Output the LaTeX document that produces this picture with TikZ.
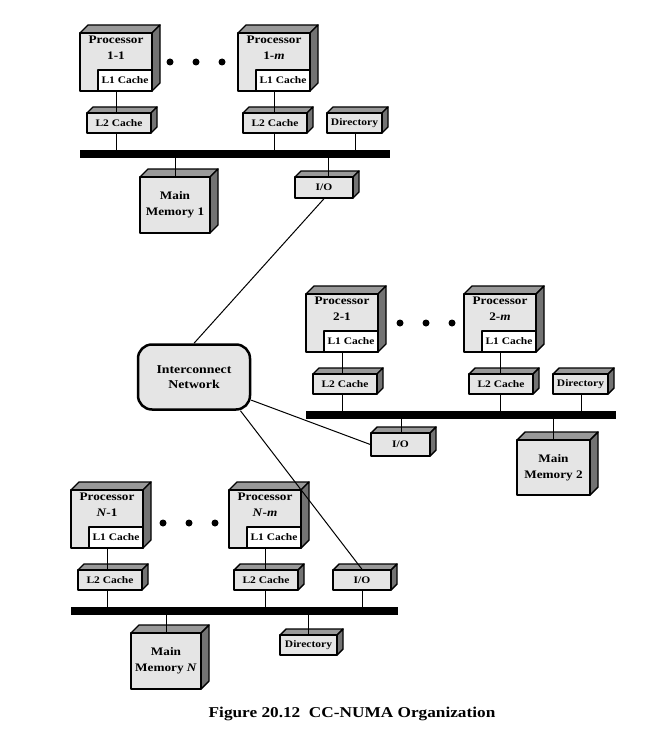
\documentclass[tikz,border=0pt]{standalone}
\usepackage{fontspec}
\setmainfont[FakeStretch=1.15]{Liberation Serif}
\usetikzlibrary{fit,shapes.misc}
\definecolor{frontc}{gray}{0.9}
\definecolor{topc}{gray}{0.6}
\definecolor{sidec}{gray}{0.45}
\tikzset{
  face/.style={draw=black,line width=1.4pt,line join=round},
  front/.style={face,fill=frontc,inner sep=0pt},
  lbl/.style={font=\fontsize{10}{11}\selectfont\bfseries,align=center,inner sep=0pt},
  big/.style={font=\fontsize{11.5}{16}\selectfont\bfseries,align=center,inner sep=0pt},
  wire/.style={line width=1pt},
  dot/.style={circle,fill=black,inner sep=0pt,minimum size=7pt},
  bus/.style={fill=black,inner sep=0pt}
}
% name, x1,y1,x2,y2, depth
\newcommand\cubeb[6]{%
  \filldraw[face,fill=topc] (#2,#3) -- ++(#6,-#6) -- (#4+#6,#3-#6) -- (#4,#3) -- cycle;
  \filldraw[face,fill=sidec] (#4,#3) -- (#4+#6,#3-#6) -- (#4+#6,#5-#6) -- (#4,#5) -- cycle;
  \node[front,fit={(#2,#3) (#4,#5)}] (#1) {};}
\begin{document}
\begin{tikzpicture}[x=1pt,y=-1pt]
\useasboundingbox[fill=white] (0,0) rectangle (650,741);
% ---------- cluster 1
\cubeb{p11}{80}{33}{152}{91}{8}
\node[big,anchor=north] (p11t) at (116,36) {Processor\\1-1};
\node[face,fill=white,inner sep=0pt,fit={(98,70) (152,91)},lbl] (c11) {};
\node[lbl] (c11t) at (c11) {L1 Cache};
\cubeb{p1m}{238}{33}{310}{91}{8}
\node[big,anchor=north] (p1mt) at (274,36) {Processor\\1-\textit{m}};
\node[face,fill=white,inner sep=0pt,fit={(256,70) (310,91)}] (c1m) {};
\node[lbl] (c1mt) at (c1m) {L1 Cache};
\node[dot] (d11) at (170,62) {};\node[dot] (d12) at (196,62) {};\node[dot] (d13) at (222,62) {};
\cubeb{l2a}{87}{113}{151}{133}{6}\node[lbl] (l2at) at (l2a) {L2 Cache};
\cubeb{l2b}{243}{113}{307}{133}{6}\node[lbl] (l2bt) at (l2b) {L2 Cache};
\cubeb{dir1}{327}{113}{382}{133}{6}\node[lbl] (dir1t) at (dir1) {Directory};
\node[bus,fit={(80,150) (390,158)}] (bus1) {};
\cubeb{mm1}{140}{177}{210}{233}{8}\node[big] (mm1t) at (mm1) {Main\\Memory 1};
\cubeb{io1}{295}{177}{353}{198}{6}\node[lbl] (io1t) at (io1) {I/O};
\draw[wire] (116,91) -- (116,113);
\draw[wire] (274,91) -- (274,113);
\draw[wire] (116,133) -- (116,150);
\draw[wire] (274,133) -- (274,150);
\draw[wire] (355,133) -- (355,150);
\draw[wire] (175,158) -- (175,177);
\draw[wire] (328,158) -- (328,177);
% ---------- cluster 2
\cubeb{p21}{306}{294}{378}{352}{8}
\node[big,anchor=north] (p21t) at (342,297) {Processor\\2-1};
\node[face,fill=white,inner sep=0pt,fit={(324,331) (378,352)}] (c21) {};
\node[lbl] (c21t) at (c21) {L1 Cache};
\cubeb{p2m}{464}{294}{536}{352}{8}
\node[big,anchor=north] (p2mt) at (500,297) {Processor\\2-\textit{m}};
\node[face,fill=white,inner sep=0pt,fit={(482,331) (536,352)}] (c2m) {};
\node[lbl] (c2mt) at (c2m) {L1 Cache};
\node[dot] (d21) at (400,323) {};\node[dot] (d22) at (426,323) {};\node[dot] (d23) at (452,323) {};
\cubeb{l2c}{313}{374}{377}{394}{6}\node[lbl] (l2ct) at (l2c) {L2 Cache};
\cubeb{l2d}{469}{374}{533}{394}{6}\node[lbl] (l2dt) at (l2d) {L2 Cache};
\cubeb{dir2}{553}{374}{608}{394}{6}\node[lbl] (dir2t) at (dir2) {Directory};
\node[bus,fit={(306,411) (616,419)}] (bus2) {};
\cubeb{io2}{371}{433}{430}{456}{6}\node[lbl] (io2t) at (io2) {I/O};
\cubeb{mm2}{517}{440}{590}{495}{8}\node[big] (mm2t) at (mm2) {Main\\Memory 2};
\draw[wire] (342,352) -- (342,374);
\draw[wire] (500,352) -- (500,374);
\draw[wire] (342,394) -- (342,411);
\draw[wire] (500,394) -- (500,411);
\draw[wire] (581,394) -- (581,411);
\draw[wire] (401,419) -- (401,433);
\draw[wire] (553,419) -- (553,440);
% ---------- cluster 3
\cubeb{pn1}{71}{490}{143}{548}{8}
\node[big,anchor=north] (pn1t) at (107,493) {Processor\\\textit{N}-1};
\node[face,fill=white,inner sep=0pt,fit={(89,527) (143,548)}] (cn1) {};
\node[lbl] (cn1t) at (cn1) {L1 Cache};
\cubeb{pnm}{229}{490}{301}{548}{8}
\node[big,anchor=north] (pnmt) at (265,493) {Processor\\\textit{N}-\textit{m}};
\node[face,fill=white,inner sep=0pt,fit={(247,527) (301,548)}] (cnm) {};
\node[lbl] (cnmt) at (cnm) {L1 Cache};
\node[dot] (d31) at (163,523) {};\node[dot] (d32) at (189,523) {};\node[dot] (d33) at (215,523) {};
\cubeb{l2e}{78}{570}{142}{590}{6}\node[lbl] (l2et) at (l2e) {L2 Cache};
\cubeb{l2f}{234}{570}{298}{590}{6}\node[lbl] (l2ft) at (l2f) {L2 Cache};
\cubeb{io3}{333}{570}{391}{590}{6}\node[lbl] (io3t) at (io3) {I/O};
\node[bus,fit={(71,607) (398,615)}] (bus3) {};
\cubeb{mm3}{131}{633}{201}{689}{8}\node[big] (mm3t) at (mm3) {Main\\Memory \textit{N}};
\cubeb{dir3}{280}{635}{337}{655}{6}\node[lbl] (dir3t) at (dir3) {Directory};
\draw[wire] (107,548) -- (107,570);
\draw[wire] (265,548) -- (265,570);
\draw[wire] (107,590) -- (107,607);
\draw[wire] (265,590) -- (265,607);
\draw[wire] (362,590) -- (362,607);
\draw[wire] (166,615) -- (166,633);
\draw[wire] (308,615) -- (308,635);
% ---------- interconnect
\node[draw,line width=2.5pt,fill=frontc,minimum width=112pt,minimum height=65pt,rounded corners=14pt,rectangle,align=center,inner sep=0pt,font=\fontsize{12}{15}\selectfont\bfseries] (net) at (194,377) {Interconnect\\Network};
\draw[wire] (io1.south) -- (net.north);
\draw[wire] (net.-22) -- (io2.west);
\draw[wire] (net.-36) -- (io3.north);
\node[font=\fontsize{15}{17}\selectfont\bfseries] (cap) at (352,714) {Figure 20.12\ \ CC-NUMA Organization};
\end{tikzpicture}
\end{document}
